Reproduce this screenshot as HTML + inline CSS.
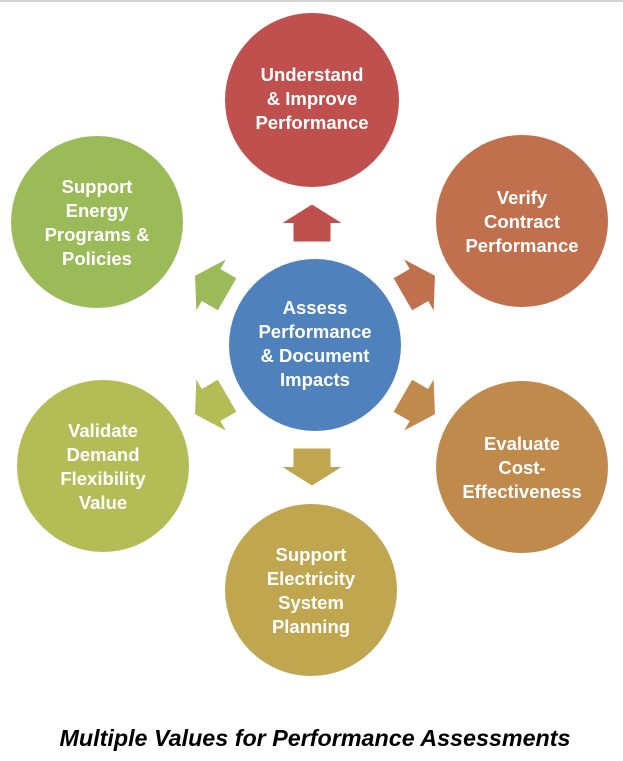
<!DOCTYPE html>
<html><head><meta charset="utf-8"><style>
html,body{margin:0;padding:0;background:#fff;width:623px;height:761px;overflow:hidden}
svg{display:block}
text{font-family:"Liberation Sans",sans-serif;font-weight:bold;fill:#fff;font-size:18.5px;text-anchor:middle}
</style></head><body>
<svg width="623" height="761" viewBox="0 0 623 761">
<line x1="0" y1="1" x2="623" y2="1" stroke="#d4d4d4" stroke-width="2"/>
<defs><polygon id="ar" points="0,-18.5 29.5,0 18.5,0 18.5,18.5 -18.5,18.5 -18.5,0 -29.5,0"/></defs>
<use href="#ar" transform="translate(312,223)" fill="#C0504D"/>
<use href="#ar" transform="translate(312,467) rotate(180)" fill="#BFA64F"/>
<g transform="translate(315,345)">
<use href="#ar" transform="rotate(60) translate(0,-120)" fill="#C0704D"/>
<use href="#ar" transform="rotate(120) translate(0,-120)" fill="#C08A4D"/>
<use href="#ar" transform="rotate(-120) translate(0,-120)" fill="#B4BC56"/>
<use href="#ar" transform="rotate(-60) translate(0,-120)" fill="#9BBB59"/>
</g>
<circle cx="315" cy="345" r="86" fill="#4F81BD"/>
<circle cx="312" cy="100" r="87" fill="#C0504D"/>
<circle cx="522" cy="221" r="86" fill="#C0704D"/>
<circle cx="522" cy="467" r="86" fill="#C08A4D"/>
<circle cx="311" cy="590" r="86" fill="#BFA64F"/>
<circle cx="103" cy="466" r="86" fill="#B4BC56"/>
<circle cx="97" cy="222" r="86" fill="#9BBB59"/>
<text x="315" y="314">Assess</text><text x="315" y="338">Performance</text><text x="315" y="362">&amp; Document</text><text x="315" y="386">Impacts</text>
<text x="312" y="81">Understand</text><text x="312" y="105">&amp; Improve</text><text x="312" y="129">Performance</text>
<text x="522" y="204">Verify</text><text x="522" y="228">Contract</text><text x="522" y="252">Performance</text>
<text x="522" y="450">Evaluate</text><text x="522" y="474">Cost-</text><text x="522" y="498">Effectiveness</text>
<text x="311" y="561">Support</text><text x="311" y="585">Electricity</text><text x="311" y="609">System</text><text x="311" y="633">Planning</text>
<text x="103" y="437">Validate</text><text x="103" y="461">Demand</text><text x="103" y="485">Flexibility</text><text x="103" y="509">Value</text>
<text x="97" y="193">Support</text><text x="97" y="217">Energy</text><text x="97" y="241">Programs &amp;</text><text x="97" y="265">Policies</text>
<text x="315" y="746" style="fill:#000;font-style:italic;font-size:23.3px">Multiple Values for Performance Assessments</text>
</svg>
</body></html>
